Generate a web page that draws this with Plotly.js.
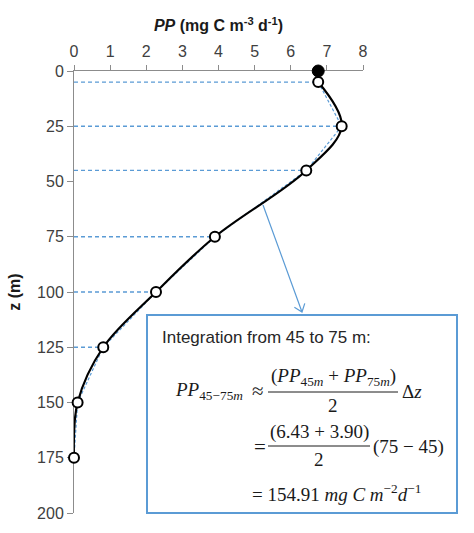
<!DOCTYPE html>
<html><head><meta charset="utf-8">
<script src="https://cdn.plot.ly/plotly-3.0.1.min.js"></script>
<style>html,body{margin:0;padding:0;background:#fff}#chart{width:474px;height:533px}</style>
</head><body><div id="chart"></div>
<script>
// Data
const depths = [0, 5, 25, 45, 75, 100, 125, 150, 175];
const pp = [6.76, 6.76, 7.41, 6.43, 3.90, 2.27, 0.81, 0.10, 0.00];
const dashDepths = [5, 25, 45, 75, 100, 125];
const xTicks = [0, 1, 2, 3, 4, 5, 6, 7, 8];
const yTicks = [0, 25, 50, 75, 100, 125, 150, 175, 200];

const blue = '#5b9bd5';
// plot area in pixels
const L = 74, R = 363, T = 71, B = 513;
const px = x => (x - L) / (R - L);
const py = y => (B - y) / (B - T);

// horizontal guide lines built from data
const gx = [], gy = [];
dashDepths.forEach(d => {
  const i = depths.indexOf(d);
  gx.push(0, pp[i], null); gy.push(d, d, null);
});

const traces = [
  {x: gx, y: gy, mode: 'lines', line: {color: blue, width: 1.3, dash: '4px,3px'}, hoverinfo: 'skip'},
  {x: pp.slice(1), y: depths.slice(1), mode: 'lines', line: {color: blue, width: 1.2, dash: '3px,2px'}, hoverinfo: 'skip'},
  {x: pp.slice(1), y: depths.slice(1), mode: 'lines', line: {color: '#000', width: 2.2, shape: 'spline', smoothing: 1}, hoverinfo: 'skip'},
  {x: [pp[0]], y: [depths[0]], mode: 'markers', marker: {size: 12, color: '#000', line: {color: '#000', width: 1}}, cliponaxis: false},
  {x: pp.slice(1), y: depths.slice(1), mode: 'markers', marker: {size: 10, color: '#fff', line: {color: '#000', width: 2}}, cliponaxis: false}
];

// arrow path (pixels -> paper)
const tail = [263, 205], head = [302, 312];
const dx = head[0] - tail[0], dy = head[1] - tail[1], len = Math.hypot(dx, dy);
const ux = dx / len, uy = dy / len, hl = 9, ang = 38 * Math.PI / 180;
const w1 = [head[0] - hl * (ux * Math.cos(ang) - uy * Math.sin(ang)), head[1] - hl * (ux * Math.sin(ang) + uy * Math.cos(ang))];
const w2 = [head[0] - hl * (ux * Math.cos(-ang) - uy * Math.sin(-ang)), head[1] - hl * (ux * Math.sin(-ang) + uy * Math.cos(-ang))];
const P = p => px(p[0]) + ',' + py(p[1]);
const arrowPath = 'M' + P(tail) + ' L' + P(head) + ' M' + P(w1) + ' L' + P(head) + ' L' + P(w2);

const mathFont = {family: 'Liberation Serif, Times New Roman, serif', size: 19, color: '#1a1a1a'};
const ann = (x, y, text, opts) => Object.assign({xref: 'paper', yref: 'paper', x: px(x), y: py(y), text: text, showarrow: false, xanchor: 'left', yanchor: 'middle', font: mathFont}, opts || {});

const annotations = [
  ann(160, 337, 'Integration from 45 to 75 m:', {font: {family: 'Liberation Sans, Arial, sans-serif', size: 17, color: '#262626'}}),
  ann(173, 391, '<i>PP</i><sub>45−75<i>m</i></sub>'),
  ann(250, 391, '≈', {font: {family: mathFont.family, size: 21, color: '#1a1a1a'}}),
  ann(333, 377, '(<i>PP</i><sub>45<i>m</i></sub> + <i>PP</i><sub>75<i>m</i></sub>)', {xanchor: 'center'}),
  ann(333, 405, '2', {xanchor: 'center'}),
  ann(400, 391, 'Δ<i>z</i>'),
  ann(252, 447, '=', {font: {family: mathFont.family, size: 21, color: '#1a1a1a'}}),
  ann(319, 432, '(6.43 + 3.90)', {xanchor: 'center'}),
  ann(319, 459, '2', {xanchor: 'center'}),
  ann(371, 447, '(75 − 45)'),
  ann(250, 493, '= 154.91 <i>mg C m</i><sup>−2</sup><i>d</i><sup>−1</sup>')
];

const shapes = [
  {type: 'rect', xref: 'paper', yref: 'paper', x0: px(147), x1: px(457), y0: py(513), y1: py(315), line: {color: blue, width: 2}, fillcolor: 'rgba(255,255,255,0)'},
  {type: 'line', xref: 'paper', yref: 'paper', x0: px(268), x1: px(398), y0: py(392), y1: py(392), line: {color: '#1a1a1a', width: 1}},
  {type: 'line', xref: 'paper', yref: 'paper', x0: px(268), x1: px(370), y0: py(446), y1: py(446), line: {color: '#1a1a1a', width: 1}},
  {type: 'path', xref: 'paper', yref: 'paper', path: arrowPath, line: {color: blue, width: 1.2}}
];

const layout = {
  width: 474, height: 533,
  margin: {l: L, r: 474 - R, t: T, b: 533 - B},
  paper_bgcolor: '#fff', plot_bgcolor: '#fff',
  showlegend: false,
  font: {family: 'Liberation Sans, Arial, sans-serif', size: 16, color: '#404040'},
  xaxis: {
    side: 'top', range: [0, 8], tickvals: xTicks, ticktext: xTicks.map(String),
    showgrid: false, zeroline: false, showline: true, linecolor: '#8c8c8c', linewidth: 1,
    ticks: 'outside', ticklen: 5, tickcolor: '#8c8c8c', layer: 'below traces',
    tickfont: {size: 16, color: '#404040'}, ticklabelstandoff: 2,
    title: {text: '<b><i>PP</i> (mg C m<sup>-3</sup> d<sup>-1</sup>)</b>', font: {size: 16, color: '#1a1a1a'}, standoff: 6}
  },
  yaxis: {
    range: [200, 0], tickvals: yTicks, ticktext: yTicks.map(String),
    showgrid: false, zeroline: false, showline: true, linecolor: '#8c8c8c', linewidth: 1,
    ticks: 'outside', ticklen: 6, tickcolor: '#8c8c8c', layer: 'below traces',
    tickfont: {size: 16, color: '#404040'},
    title: {text: '<b>z (m)</b>', font: {size: 16, color: '#1a1a1a'}, standoff: 12}
  },
  annotations: annotations,
  shapes: shapes
};

Plotly.newPlot('chart', traces, layout, {staticPlot: true, displayModeBar: false});
</script></body></html>
